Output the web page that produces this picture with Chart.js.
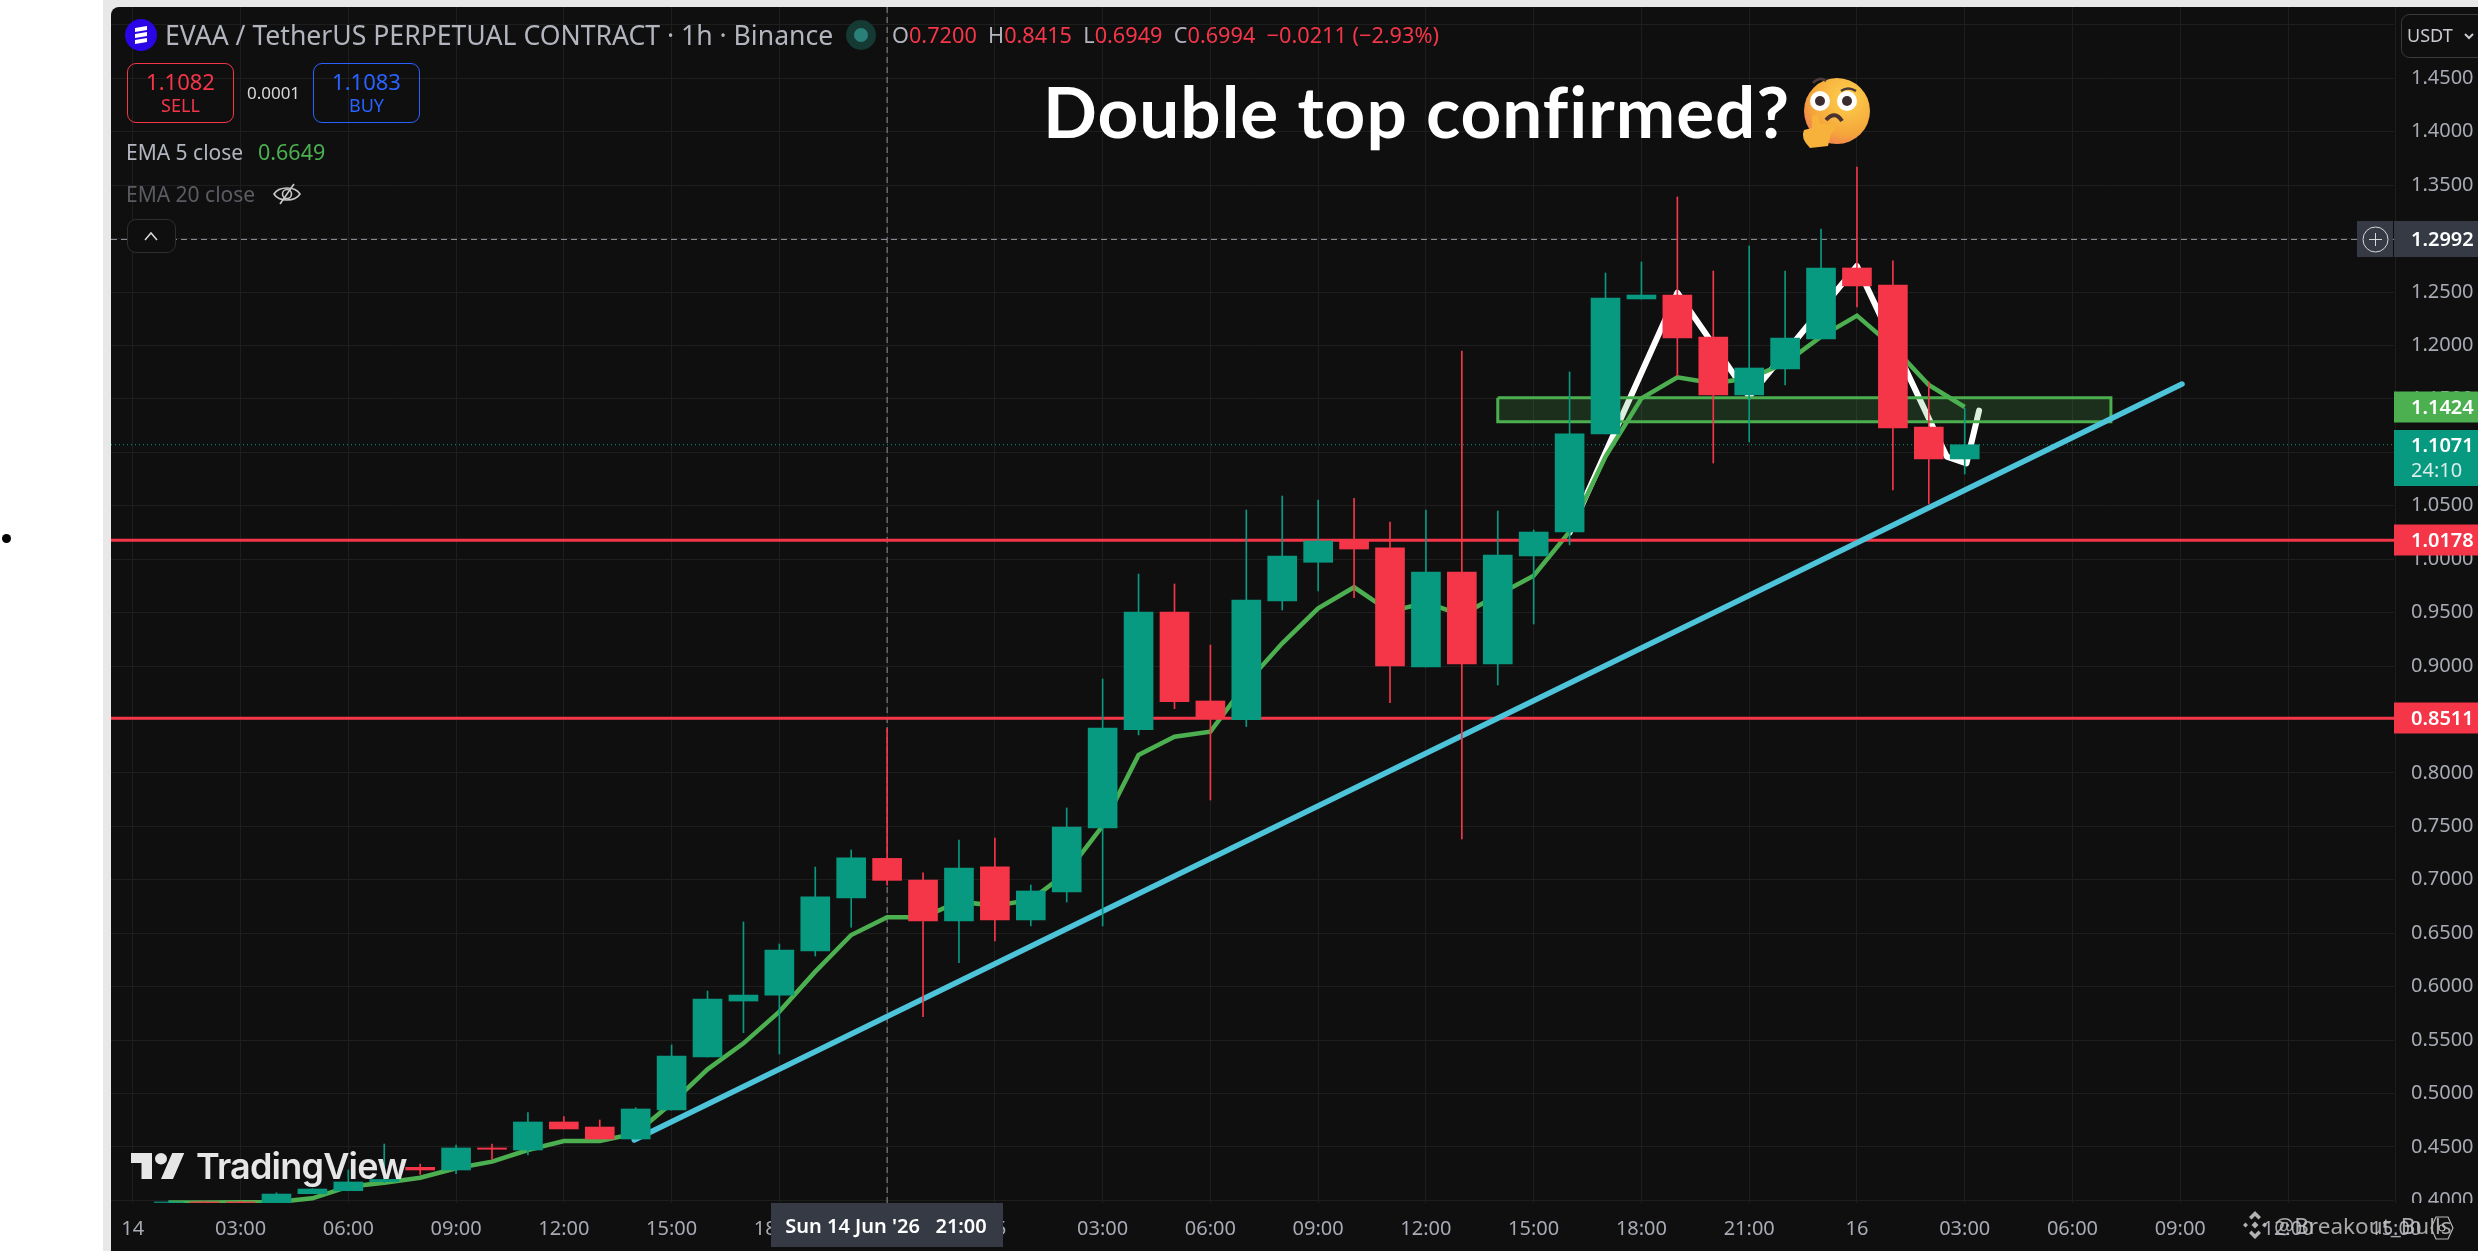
<!DOCTYPE html>
<html>
<head>
<meta charset="utf-8">
<title>EVAA / TetherUS 1h</title>
<script src="https://cdn.jsdelivr.net/npm/chart.js@4/dist/chart.umd.min.js"></script>
<style>
html, body { margin: 0; padding: 0; background: #fff; overflow: hidden; }
#stage { position: relative; width: 2478px; height: 1251px; overflow: hidden; font-family: "Noto Sans", sans-serif; }
#grey { position: absolute; left: 103px; top: 0; width: 2375px; height: 1251px; background: #e8e8e8; }
#panel { position: absolute; left: 111px; top: 7px; width: 2367px; height: 1244px; background: #0f0f0f; border-top-left-radius: 8px; }
#dot { position: absolute; left: 2px; top: 534px; width: 9px; height: 9px; border-radius: 50%; background: #000; }
#diagramCanvas { position: absolute; left: 0; top: 0; }
.t { position: absolute; white-space: nowrap; line-height: 1; transform: translateY(-50%); }
.box { position: absolute; box-sizing: border-box; border-radius: 9px; }
svg { position: absolute; overflow: visible; }
</style>
</head>
<body>
<div id="stage">
  <div id="grey"></div>
  <div id="panel"></div>
  <div id="dot"></div>
  <canvas id="diagramCanvas" width="2478" height="1251"></canvas>

  <svg style="left:125px;top:19px" width="32" height="32" viewBox="0 0 32 32">
    <circle cx="16" cy="16" r="16" fill="#2a05e6"/>
    <path d="M10 9l12-2v4l-12 2zM10 15l12-2v4l-12 2zM10 21l12-2v4l-12 2z" fill="#fff"/>
  </svg>
  <div class="t" style="left:165px;top:35px;font-size:26.6px;color:#b2b5be" id="symbolText">EVAA / TetherUS PERPETUAL CONTRACT · 1h · Binance</div>
  <svg style="left:845px;top:19px" width="32" height="32"><circle cx="16" cy="16" r="15" fill="#143a33"/><circle cx="16" cy="16" r="7" fill="#2b7f79"/></svg>
  <div class="t" style="left:892px;top:35px;font-size:21.7px;color:#b2b5be">O<span style="color:#f43648">0.7200</span>&nbsp;&nbsp;H<span style="color:#f43648">0.8415</span>&nbsp;&nbsp;L<span style="color:#f43648">0.6949</span>&nbsp;&nbsp;C<span style="color:#f43648">0.6994</span>&nbsp;&nbsp;<span style="color:#f43648">−0.0211 (−2.93%)</span></div>

  <div class="box" style="left:127px;top:63px;width:107px;height:60px;border:1.5px solid #f43648"></div>
  <div class="t" style="left:127px;width:107px;text-align:center;top:81px;font-size:22px;color:#f43648">1.1082</div>
  <div class="t" style="left:127px;width:107px;text-align:center;top:105px;font-size:18px;color:#f43648">SELL</div>
  <div class="t" style="left:233px;width:81px;text-align:center;top:92px;font-size:17px;color:#d8d8d8">0.0001</div>
  <div class="box" style="left:313px;top:63px;width:107px;height:60px;border:1.5px solid #2962ff"></div>
  <div class="t" style="left:313px;width:107px;text-align:center;top:81px;font-size:22px;color:#2962ff">1.1083</div>
  <div class="t" style="left:313px;width:107px;text-align:center;top:105px;font-size:18px;color:#2962ff">BUY</div>

  <div class="t" style="left:126px;top:152px;font-size:21px;color:#b2b5be">EMA 5 close</div>
  <div class="t" style="left:258px;top:152px;font-size:21.5px;color:#4caf50">0.6649</div>
  <div class="t" style="left:126px;top:194px;font-size:21px;color:#5a5c62">EMA 20 close</div>
  <svg style="left:273px;top:180px" width="28" height="28" viewBox="0 0 28 28" fill="none" stroke="#c8c8c8" stroke-width="1.6">
    <path d="M1 14C6 6 22 6 27 14C22 22 6 22 1 14Z"/><circle cx="14" cy="14" r="4.5"/><path d="M21 4L7 24"/>
  </svg>
  <div class="box" style="left:127px;top:219px;width:49px;height:34px;border:1px solid #2e2e2e;background:#0f0f0f"></div>
  <svg style="left:143px;top:231px" width="16" height="10" fill="none" stroke="#d8d8d8" stroke-width="1.5"><path d="M2 9L8 2L14 9"/></svg>

  <div class="t" id="titleText" style="left:1043px;top:110px;font-family:Lato;font-weight:700;font-size:71px;letter-spacing:1px;color:#fff">Double top confirmed?</div>
  <svg style="left:1800px;top:76px" width="70" height="74" viewBox="0 0 70 74">
    <defs>
      <radialGradient id="faceGrad" cx="0.65" cy="0.3" r="0.85">
        <stop offset="0" stop-color="#fdd14d"/><stop offset="0.65" stop-color="#f5a63a"/><stop offset="1" stop-color="#f0705a"/>
      </radialGradient>
    </defs>
    <circle cx="37" cy="35" r="33" fill="url(#faceGrad)"/>
    <path d="M13 7Q20 0 26 5" stroke="#4a3a3a" stroke-width="2.5" fill="none"/>
    <path d="M41 15Q48 10 56 15" stroke="#4a3a3a" stroke-width="2.5" fill="none"/>
    <circle cx="20" cy="25" r="10" fill="#fff"/><circle cx="20" cy="25" r="5" fill="#3b2c2e"/>
    <circle cx="47" cy="25" r="10" fill="#fff"/><circle cx="47" cy="25" r="5" fill="#3b2c2e"/>
    <path d="M26 44Q35 34 42 45" stroke="#4a3230" stroke-width="4" fill="none"/>
    <path d="M12 40L18 38L20 48L36 49L35 54L31 58L28 70L10 72Q0 62 4 54L12 52Z" fill="#f7b23b"/>
  </svg>

  <svg style="left:131px;top:1153px" width="54" height="26" viewBox="0 0 36 18" preserveAspectRatio="none">
    <path d="M14 18H7V7H0V0H14ZM28 18H20L27.5 0H35.5Z" fill="#e6e6e6"/><circle cx="20" cy="4" r="4" fill="#e6e6e6"/>
  </svg>
  <div class="t" style="left:196px;top:1166px;font-family:Inter;font-weight:600;font-size:36px;letter-spacing:-0.8px;color:#e6e6e6">TradingView</div>

  <svg style="left:2241px;top:1211px" width="28" height="28" viewBox="0 0 28 28" fill="#c4c4c4" opacity="0.9">
    <path d="M14 0l6 6-2.5 2.5L14 5 10.500 8.500 8 6zM14 28l6-6-2.500-2.500L14 23l-3.500-3.500L8 22zM14 10.500l3.500 3.500-3.500 3.500-3.500-3.500zM4.500 11.500l2.500 2.500-2.500 2.500L2 14zM23.500 11.500l2.500 2.500-2.500 2.500L21 14z"/>
  </svg>
  <div class="t" style="left:2274px;top:1226px;font-size:22.5px;color:#c4c4c4;opacity:.85">@Breakout_Bulls</div>
  <svg style="left:2431px;top:1216px" width="22" height="24" fill="none" stroke="#b8b8b8" stroke-width="1.2"><path d="M5 1H17L22 12L17 23H5L0 12Z"/><circle cx="11" cy="12" r="3"/></svg>
</div>

<script>
//Candles, one per hour counted from 14 Jun 00:00
const candleHours = [1,2,3,4,5,6,7,8,9,10,11,12,13,14,15,16,17,18,19,20,21,22,23,24,25,26,27,28,29,30,31,32,33,34,35,36,37,38,39,40,41,42,43,44,45,46,47,48,49,50,51]
const opens = [0.398,0.3985,0.3985,0.3978,0.4062,0.409,0.4175,0.4309,0.4284,0.449,0.4471,0.4733,0.4686,0.4574,0.4845,0.5341,0.5865,0.5921,0.6333,0.6829,0.72,0.6998,0.6614,0.712,0.6624,0.6886,0.7485,0.8405,0.9506,0.8673,0.8498,0.9609,0.9971,1.017,1.0105,0.8991,0.988,0.9019,1.003,1.0255,1.1172,1.2435,1.2472,1.2079,1.1537,1.178,1.2061,1.2725,1.2566,1.1237,1.0938]
const closes = [0.3985,0.398,0.398,0.4059,0.4106,0.4172,0.4195,0.4284,0.449,0.4478,0.4733,0.4668,0.4574,0.4855,0.5351,0.5884,0.5921,0.6343,0.6839,0.7204,0.6994,0.6614,0.711,0.6624,0.6895,0.7494,0.842,0.9506,0.8667,0.8511,0.9618,1.003,1.017,1.0095,0.9,0.988,0.9019,1.0039,1.0254,1.1172,1.2444,1.2472,1.207,1.1537,1.1789,1.207,1.2725,1.2557,1.1228,1.0938,1.1071]
const highs = [0.3995,0.399,0.399,0.4071,0.411,0.4284,0.4527,0.434,0.4518,0.4527,0.482,0.4783,0.4752,0.4867,0.5454,0.5959,0.6605,0.6399,0.7119,0.7278,0.8415,0.7064,0.7372,0.7391,0.6951,0.7672,0.8879,0.9861,0.9768,0.9197,1.046,1.0591,1.0554,1.0569,1.0348,1.046,1.1948,1.0451,1.0273,1.1752,1.2678,1.2781,1.339,1.2697,1.2931,1.2697,1.309,1.367,1.2791,1.1658,1.1412]
const lows = [0.398,0.3978,0.3978,0.3978,0.4062,0.409,0.4165,0.4243,0.4249,0.4384,0.4424,0.4668,0.4574,0.4574,0.4845,0.5341,0.5569,0.5369,0.6286,0.6555,0.6949,0.5719,0.6224,0.6427,0.6568,0.6792,0.6568,0.8355,0.8601,0.7746,0.8433,0.9524,0.9702,0.964,0.8657,0.8991,0.7381,0.8823,0.9393,1.0133,1.1172,1.2435,1.1715,1.09,1.1097,1.163,1.2061,1.236,1.0648,1.0517,1.0797]
const emaValues = [0.398,0.398,0.3982,0.3984,0.4019,0.4128,0.4165,0.4212,0.43,0.4362,0.4471,0.4555,0.4555,0.4627,0.4908,0.5226,0.5469,0.5766,0.614,0.6483,0.6649,0.6649,0.6795,0.6758,0.6811,0.7065,0.7505,0.8168,0.8339,0.8386,0.8838,0.9213,0.954,0.9737,0.9509,0.9593,0.9478,0.9665,0.9845,1.0258,1.096,1.1505,1.1702,1.1646,1.1693,1.1833,1.2083,1.2279,1.1989,1.163,1.1424]

//Hand drawn pattern, trend line and levels
const patternHours = [40,43,45,48,50.5,51.05,51.4]
const patternPrices = [1.025,1.2494,1.1521,1.2744,1.096,1.0897,1.139]
const trendHours = [13.96,57.05]
const trendPrices = [0.4565,1.1639]
const zoneHours = [38,55.07]
const zonePrices = [1.1511,1.1287]
const levelPrices = [1.0178,0.8511]
const crosshairHour = 21
const crosshairPrice = 1.2992
const lastPrice = 1.1071

//Axis
const priceTicks = [0.4,0.45,0.5,0.55,0.6,0.65,0.7,0.75,0.8,0.85,0.9,0.95,1,1.05,1.1,1.15,1.2,1.25,1.3,1.35,1.4,1.45,1.5]
const timeTickHours = [0,3,6,9,12,15,18,21,24,27,30,33,36,39,42,45,48,51,54,57,60,63]
const timeTickLabels = ['14','03:00','06:00','09:00','12:00','15:00','18:00','21:00','15','03:00','06:00','09:00','12:00','15:00','18:00','21:00','16','03:00','06:00','09:00','12:00','15:00']
const tagPrices = [1.2992,1.1424,1.0178,0.8511]
const tagTexts = ['1.2992','1.1424','1.0178','0.8511']
const tagColors = ['#363a45','#4caf50','#f43648','#f43648']

const red = '#f43648', teal = '#089981'
const panelRight = 2478, axisLeft = 2394, plotBottom = 1203
const hourMin = (111 - 132.8) / 35.92, hourMax = (axisLeft - 132.8) / 35.92
const priceMax = 1.45 + (78.3 - 7) / 1068.6, priceMin = 1.45 - (plotBottom - 78.3) / 1068.6

const candleColors = candleHours.map((h, i) => closes[i] >= opens[i] ? teal : red)
const zip = (xs, ys) => xs.map((x, i) => ({x: x, y: ys[i]}))
const flatLine = (price) => [{x: hourMin, y: price}, {x: hourMax, y: price}]

const zonePath = [
    {x: zoneHours[0], y: zonePrices[0]}, {x: zoneHours[1], y: zonePrices[0]},
    {x: zoneHours[1], y: zonePrices[1]}, {x: zoneHours[0], y: zonePrices[1]},
    {x: zoneHours[0], y: zonePrices[0]}
]

//Things that sit outside of what the datasets can do: axis cover and price tags
const chartOverlay = {
    id: 'chartOverlay',
    beforeDatasetsDraw(chart) {
        const ctx = chart.ctx
        ctx.save()
        ctx.fillStyle = '#0f0f0f'
        ctx.fillRect(111, plotBottom, panelRight - 111, 1251 - plotBottom)
        ctx.restore()
    },
    afterDraw(chart) {
        const ctx = chart.ctx, y = chart.scales.y
        ctx.save()
        ctx.textBaseline = 'middle'
        ctx.textAlign = 'left'
        ctx.font = '600 20px "Noto Sans"'
        tagPrices.forEach((price, i) => {
            const py = Math.round(y.getPixelForValue(price))
            const half = i === 0 ? 18 : 15.5
            ctx.fillStyle = tagColors[i]
            ctx.fillRect(axisLeft, py - half, panelRight - axisLeft, half * 2)
            ctx.fillStyle = '#fff'
            ctx.fillText(tagTexts[i], 2411, py + 1)
        })
        //crosshair plus button
        const cy = Math.round(y.getPixelForValue(crosshairPrice))
        ctx.fillStyle = '#363a45'
        ctx.fillRect(2357, cy - 18, 36, 36)
        ctx.strokeStyle = '#d8d8d8'
        ctx.lineWidth = 1
        ctx.beginPath()
        ctx.arc(2375.5, cy + 0.5, 12.5, 0, Math.PI * 2)
        ctx.moveTo(2369, cy + 0.5); ctx.lineTo(2382, cy + 0.5)
        ctx.moveTo(2375.5, cy - 6); ctx.lineTo(2375.5, cy + 7)
        ctx.stroke()
        //last price tag with countdown
        const ly = Math.round(y.getPixelForValue(lastPrice))
        ctx.fillStyle = teal
        ctx.fillRect(axisLeft, ly - 15, panelRight - axisLeft, 56)
        ctx.fillStyle = '#fff'
        ctx.fillText('1.1071', 2411, ly + 1)
        ctx.font = '20px "Noto Sans"'
        ctx.fillStyle = '#d9ece8'
        ctx.fillText('24:10', 2411, ly + 26)
        //crosshair date box
        ctx.fillStyle = '#363a45'
        ctx.fillRect(771, plotBottom, 232, 44)
        ctx.textAlign = 'center'
        ctx.font = '600 20px "Noto Sans"'
        ctx.fillStyle = '#fff'
        ctx.fillText("Sun 14 Jun '26   21:00", 886, 1227)
        //currency button
        ctx.fillStyle = '#0f0f0f'
        ctx.strokeStyle = '#3a3a3a'
        ctx.beginPath()
        ctx.roundRect(2401.5, 14.5, 90, 43, 8)
        ctx.fill()
        ctx.stroke()
        ctx.textAlign = 'left'
        ctx.font = '18px "Noto Sans"'
        ctx.fillStyle = '#c8cad0'
        ctx.fillText('USDT', 2407, 37)
        ctx.strokeStyle = '#c8cad0'
        ctx.lineWidth = 2
        ctx.beginPath()
        ctx.moveTo(2465, 34); ctx.lineTo(2469, 38); ctx.lineTo(2473, 34)
        ctx.stroke()
        ctx.restore()
    }
}

const diagramCanvas = document.getElementById('diagramCanvas')
const diagramChart = new Chart(diagramCanvas, {
    type: 'bar',
    plugins: [chartOverlay],
    data: {
        datasets: [
            {
                type: 'line', order: 20, data: [{x: crosshairHour, y: priceMin}, {x: crosshairHour, y: priceMax}],
                borderColor: '#8f9299', borderWidth: 1, borderDash: [6, 4], pointRadius: 0
            },
            {
                type: 'line', order: 20, data: flatLine(crosshairPrice),
                borderColor: '#8f9299', borderWidth: 1, borderDash: [6, 4], pointRadius: 0
            },
            {
                type: 'line', order: 20, data: flatLine(lastPrice),
                borderColor: teal, borderWidth: 1, borderDash: [1, 3], pointRadius: 0
            },
            {
                type: 'line', order: 10, data: zip(patternHours, patternPrices),
                borderColor: '#ffffff', borderWidth: 6, pointRadius: 0, borderJoinStyle: 'round', borderCapStyle: 'round'
            },
            {
                //zone fill, top edge filled down to the lower price
                type: 'line', order: 9, data: zip(zoneHours, [zonePrices[0], zonePrices[0]]),
                borderWidth: 0, pointRadius: 0, fill: {target: {value: zonePrices[1]}}, backgroundColor: 'rgba(76,175,80,0.2)'
            },
            {
                type: 'line', order: 9, data: zonePath,
                borderColor: '#4caf50', borderWidth: 3, pointRadius: 0
            },
            {
                type: 'line', order: 8, data: zip(candleHours, emaValues),
                borderColor: '#4caf50', borderWidth: 4.5, pointRadius: 0
            },
            {
                type: 'line', order: 7, data: flatLine(levelPrices[0]),
                borderColor: red, borderWidth: 3, pointRadius: 0
            },
            {
                type: 'line', order: 7, data: flatLine(levelPrices[1]),
                borderColor: red, borderWidth: 3, pointRadius: 0
            },
            {
                type: 'line', order: 6, data: zip(trendHours, trendPrices),
                borderColor: '#4dc4da', borderWidth: 5.5, pointRadius: 0, borderCapStyle: 'round'
            },
            {
                order: 5, grouped: false, barThickness: 1, backgroundColor: candleColors,
                data: candleHours.map((h, i) => ({x: h, y: [lows[i], highs[i]]}))
            },
            {
                order: 4, grouped: false, barThickness: 29, backgroundColor: candleColors,
                data: candleHours.map((h, i) => ({x: h, y: [Math.min(opens[i], closes[i]), Math.max(opens[i], closes[i])]}))
            }
        ]
    },
    options: {
        responsive: false,
        animation: false,
        layout: {autoPadding: false, padding: {left: 111, top: 7, right: 0, bottom: 0}},
        plugins: {legend: {display: false}, tooltip: {enabled: false}},
        scales: {
            x: {
                type: 'linear', offset: false, min: hourMin, max: hourMax,
                afterFit: (scale) => { scale.height = 1251 - plotBottom; scale.paddingLeft = 0; scale.paddingRight = 0 },
                afterBuildTicks: (scale) => { scale.ticks = timeTickHours.map(v => ({value: v})) },
                grid: {color: '#1e1e1e', offset: false, drawTicks: false},
                border: {display: false},
                ticks: {
                    z: 1, autoSkip: false, maxRotation: 0, color: '#a8abb4', padding: 14, font: {family: 'Noto Sans', size: 20},
                    callback: (value) => timeTickLabels[timeTickHours.indexOf(value)]
                }
            },
            y: {
                type: 'linear', position: 'right', min: priceMin, max: priceMax,
                //label height and tick padding would otherwise push the plot top down
                afterFit: (scale) => { scale.width = panelRight - axisLeft; scale.paddingTop = 0; scale.paddingBottom = 0 },
                afterBuildTicks: (scale) => { scale.ticks = priceTicks.map(v => ({value: v})) },
                grid: {color: '#1e1e1e', drawTicks: false},
                border: {display: false},
                ticks: {
                    autoSkip: false, color: '#a8abb4', padding: 17, font: {family: 'Noto Sans', size: 20},
                    callback: (value) => value.toFixed(4)
                }
            }
        }
    }
})
</script>
</body>
</html>
